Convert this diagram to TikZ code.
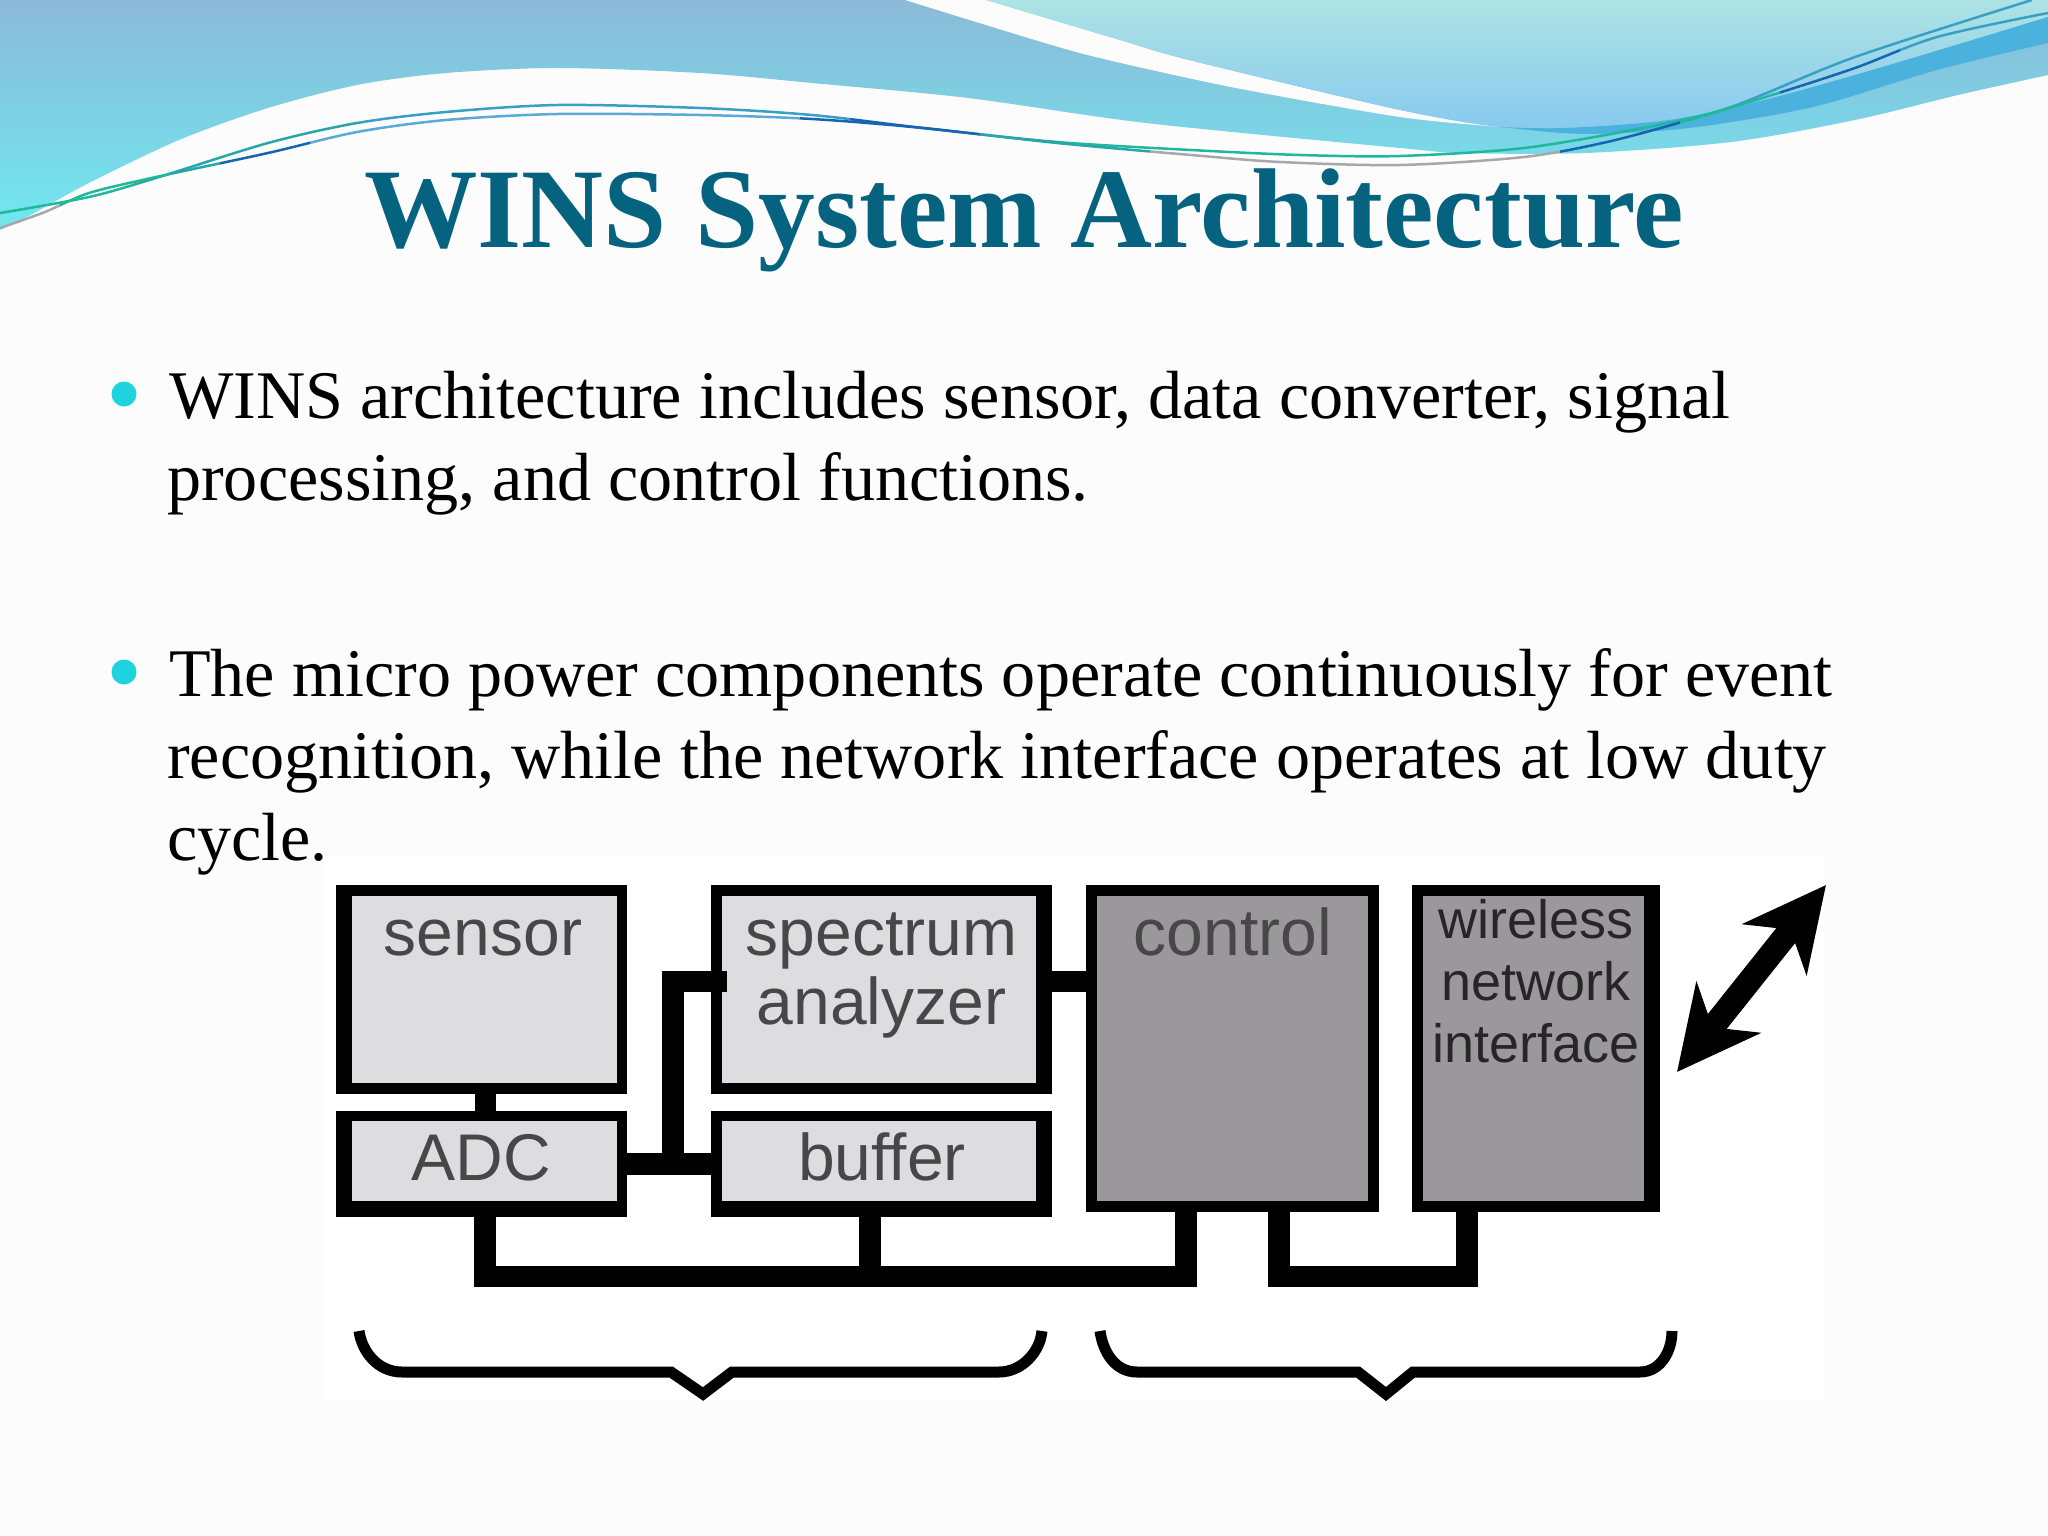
\documentclass[tikz,border=0pt]{standalone}
\usepackage{fontspec}
\usetikzlibrary{arrows.meta,calc}
\setmainfont{Liberation Serif}
\newfontfamily\labelfont{Liberation Sans}
\definecolor{pagebg}{HTML}{FCFCFD}
\definecolor{titleteal}{HTML}{05637F}
\definecolor{dotcyan}{HTML}{1CD3DE}
\definecolor{lightpanel}{HTML}{DDDCDF}
\definecolor{darkpanel}{HTML}{9A989B}
\definecolor{wavetop}{HTML}{8BBAD8}
\definecolor{wavelow}{HTML}{70E8F0}
\definecolor{paletop}{HTML}{ADE3E4}
\definecolor{palelow}{HTML}{88C9EF}
\definecolor{waveband}{HTML}{4AB2DD}
\definecolor{threadblue}{HTML}{3A9FC4}
\definecolor{threadsky}{HTML}{5BAAD5}
\definecolor{threaddeep}{HTML}{1565B0}
\definecolor{threadteal}{HTML}{28A6A8}
\definecolor{threadgreen}{HTML}{1FB89A}
\definecolor{threadgray}{HTML}{A8A8AC}
\tikzset{
  wall/.style={fill=black, inner sep=0pt, outer sep=0pt},
  wire/.style={line width=21.5pt},
  curly/.style={line width=11pt, line join=miter},
  tag/.style={font=\labelfont\fontsize{66}{69}\selectfont, text=black!72, align=center, inner sep=0pt, anchor=base},
  bodytext/.style={anchor=base west, inner sep=0pt, font=\fontsize{68.15}{68.15}\selectfont},
  dot/.style={circle, fill=dotcyan, minimum size=25pt, inner sep=0pt}
}
\newcommand{\threadone}{plot[smooth] coordinates {(0,213) (89,197) (156,178) (268,143) (357,123) (446,112) (558,105) (700,108) (812,115) (923,128) (1057,142) (1191,150) (1300,155) (1400,156) (1524,148) (1648,127) (1731,107) (1855,57) (2032,0)}}
\newcommand{\threadtwo}{plot[smooth] coordinates {(0,228) (45,212) (89,193) (156,177) (268,153) (357,132) (446,120) (558,114) (700,115) (812,119) (923,128) (1057,143) (1191,155) (1280,162) (1400,165) (1524,157) (1607,142) (1689,120) (1772,95) (1855,68) (1937,37) (2048,13)}}
\begin{document}
\begin{tikzpicture}[x=1pt,y=-1pt]
\useasboundingbox (0,0) rectangle (2048,1536);
\fill[pagebg] (0,0) rectangle (2048,1536);

% draw the waves at the top
\shade[top color=wavetop, bottom color=wavelow] (0,0) -- (2048,0) -- plot[smooth] coordinates {(2048,75) (1958,95) (1855,120) (1731,142) (1586,153) (1462,153) (1400,148) (1146,123) (968,98) (812,83) (700,73) (558,68) (446,73) (357,85) (268,108) (179,140) (89,183) (27,217) (0,230)} -- cycle;
\fill[pagebg] plot[smooth] coordinates {(905,0) (1045,43) (1108,60) (1236,88) (1400,117) (1502,127)} -- plot[smooth] coordinates {(1502,127) (1400,110) (1189,60) (1120,40) (986,0)} -- cycle;
\shade[top color=paletop, bottom color=palelow] plot[smooth] coordinates {(986,0) (1120,40) (1189,60) (1400,110) (1499,127) (1565,128) (1669,120) (1772,98) (1896,63) (2048,17)} -- (2048,0) -- cycle;
\fill[waveband] plot[smooth] coordinates {(1499,127) (1565,128) (1669,120) (1772,98) (1896,63) (2048,17)} -- plot[smooth] coordinates {(2048,43) (1937,70) (1813,107) (1689,128) (1586,134) (1511,128)} -- cycle;
\foreach \xa/\xb/\threadcol in {0/134/threadgreen,134/360/threadteal,360/850/threadblue,850/960/threaddeep,960/1060/threadteal,1060/1720/threadgreen,1720/2048/threadblue}{
  \begin{scope}
  \clip (\xa,0) rectangle (\xb,300);
  \draw[line width=2.5pt, \threadcol] \threadone;
  \end{scope}
}
\foreach \xa/\xb/\threadcol in {0/60/threadgray,60/170/threadgreen,170/220/threadteal,220/310/threaddeep,310/800/threadsky,800/980/threaddeep,980/1150/threadteal,1150/1560/threadgray,1560/1680/threaddeep,1680/1780/threadgreen,1780/1900/threaddeep,1900/2048/threadblue}{
  \begin{scope}
  \clip (\xa,0) rectangle (\xb,300);
  \draw[line width=2.5pt, \threadcol] \threadtwo;
  \end{scope}
}

% draw the title and the bullets
\node[anchor=base, inner sep=0pt, text=titleteal, font=\fontsize{113.5}{113.5}\selectfont\bfseries] (title) at (1024,247) {WINS System Architecture};
\node[dot] (dotone) at (124,394) {};
\node[dot] (dottwo) at (124,672) {};
\node[bodytext] (lineone) at (169,418) {WINS architecture includes sensor, data converter, signal};
\node[bodytext] (linetwo) at (167,500) {processing, and control functions.};
\node[bodytext] (linethree) at (169,696) {The micro power components operate continuously for event};
\node[bodytext] (linefour) at (167,778) {recognition, while the network interface operates at low duty};
\node[bodytext] (linefive) at (167,860) {cycle.};

% draw the picture behind the blocks
\fill[white] (323,855) rectangle (1825,1400);

% draw the blocks
\node[wall, minimum width=291.5pt, minimum height=209pt] (sensor) at (481.25,989.5) {};
\node[wall, minimum width=291.5pt, minimum height=106pt] (adc) at (481.25,1164) {};
\node[wall, minimum width=341pt, minimum height=209pt] (spectrum) at (881.5,989.5) {};
\node[wall, minimum width=341pt, minimum height=106pt] (buffer) at (881.5,1164) {};
\node[wall, minimum width=293pt, minimum height=327pt] (control) at (1232.5,1048.5) {};
\node[wall, minimum width=248pt, minimum height=327pt] (wireless) at (1536,1048.5) {};
\fill[lightpanel] (351.5,896) rectangle (617,1083);
\fill[lightpanel] (351.5,1121) rectangle (617,1201);
\fill[lightpanel] (722,896) rectangle (1036,1083);
\fill[lightpanel] (722,1121) rectangle (1036,1201);
\fill[darkpanel] (1097,896) rectangle (1367.5,1201);
\fill[darkpanel] (1423,896) rectangle (1644,1201);

% draw the block names
\node[tag] (sensorname) at (483,955) {sensor};
\node[tag] (spectrumname) at (881.5,1024) {spectrum\\analyzer};
\node[tag] (adcname) at (481,1180) {ADC};
\node[tag] (buffername) at (882,1180) {buffer};
\node[tag] (controlname) at (1233,955) {control};
\node[tag, font=\labelfont\fontsize{54}{62}\selectfont, text=black!85] (wirelessname) at (1536,1062) {wireless\\network\\interface};

% draw the wires
\coordinate (tee) at (672.75,1164);
\coordinate (stub) at (727,981.5);
\coordinate (busleft) at (485,1276.5);
\coordinate (busmid) at (870,1276.5);
\coordinate (busright) at (1186,1276.5);
\coordinate (radioleft) at (1279,1276.5);
\coordinate (radioright) at (1467,1276.5);
\draw[wire] ([xshift=4pt]sensor.south) -- ([xshift=4pt]adc.north);
\draw[wire] (adc.east) -- (buffer.west);
\draw[wire] (tee) |- (stub);
\draw[wire] (spectrum.east |- stub) -- (control.west |- stub);
\draw[wire] (adc.south -| busleft) -- (busleft) -- (busright) -- (control.south -| busright);
\draw[wire] (buffer.south -| busmid) -- (busmid);
\draw[wire] (control.south -| radioleft) -- (radioleft) -- (radioright) -- (wireless.south -| radioright);

% draw the radio arrow
\coordinate (radioin) at (1677,1072);
\coordinate (radioout) at (1826,885);
\draw[line width=24pt, {Stealth[length=82pt,width=81pt,inset=25pt]}-{Stealth[length=82pt,width=81pt,inset=25pt]}] (radioin) -- (radioout);

% draw the braces
\draw[curly] (359,1331) .. controls (362,1352) and (378,1372) .. (402,1372) -- (671,1372) -- (703,1394) -- (732,1372) -- (999,1372) .. controls (1022,1372) and (1040,1352) .. (1042,1331);
\draw[curly] (1100,1331) .. controls (1103,1352) and (1115,1372) .. (1137,1372) -- (1358,1372) -- (1386,1394) -- (1413,1372) -- (1640,1372) .. controls (1660,1372) and (1672,1352) .. (1672,1331);
\end{tikzpicture}
\end{document}
